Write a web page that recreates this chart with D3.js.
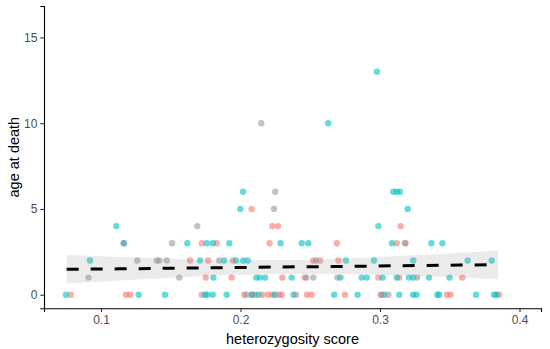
<!DOCTYPE html>
<html>
<head>
<meta charset="utf-8">
<script src="https://cdn.jsdelivr.net/npm/d3@7"></script>
<style>
  html, body { margin: 0; padding: 0; background: #fff; }
  svg { display: block; font-family: "Liberation Sans", Arial, Helvetica, sans-serif; }
</style>
</head>
<body>
<svg id="chart" width="550" height="349"></svg>
<script>
// ---------- data ----------
const salmonX = [0.0783,0.1179,0.1208,0.1722,0.2027,0.2080,0.2104,0.2158,0.2199,0.2229,0.2278,0.2295,0.2477,0.2510,0.2749,0.3005,0.3480,0.3505,0.3853,
                 0.1751,0.1937,0.2300,0.2460,0.2988,0.3136,0.3590,
                 0.1638,0.1769,0.1946,0.2522,0.2570,0.2702,
                 0.1165,0.1724,0.1829,0.2208,0.2690,0.3120,0.3183,
                 0.2228,0.2269,0.3148,
                 0.2080];
const salmonY = [0,0,0,0,0,0,0,0,0,0,0,0,0,0,0,0,0,0,0,
                 1,1,1,1,1,1,1,
                 2,2,2,2,2,2,
                 3,3,3,3,3,3,3,
                 4,4,4,
                 5];
const tealX = [0.0749,0.1270,0.1459,0.1746,0.1762,0.1801,0.1901,0.2082,0.2129,0.2247,0.2380,0.2672,0.2839,0.3032,0.3138,0.3237,0.3262,0.3411,0.3425,0.3688,0.3817,0.3835,
               0.1806,0.2113,0.2138,0.2176,0.2367,0.2717,0.2869,0.2905,0.3019,0.3120,0.3208,0.3239,0.3351,0.3498,
               0.0921,0.1710,0.1882,0.1968,0.2020,0.2052,0.2756,0.2957,0.3239,0.3629,0.3801,
               0.1163,0.1619,0.1758,0.1801,0.1920,0.2288,0.2439,0.2486,0.3086,0.3368,0.3448,
               0.1110,0.2989,
               0.1999,0.3199,
               0.2019,0.3095,0.3120,0.3143,
               0.2629,
               0.2978];
const tealY = [0,0,0,0,0,0,0,0,0,0,0,0,0,0,0,0,0,0,0,0,0,0,
               1,1,1,1,1,1,1,1,1,1,1,1,1,1,
               2,2,2,2,2,2,2,2,2,2,2,
               3,3,3,3,3,3,3,3,3,3,3,
               4,4,
               5,5,
               6,6,6,6,
               10,
               13];
const greyX = [0.2044,0.2398,0.3012,0.3060,
               0.0910,0.1561,0.2472,0.2522,0.2695,0.3267,
               0.1260,0.1399,0.1418,0.1471,0.1848,0.2541,
               0.1510,0.3179,
               0.1690,
               0.2240,
               0.2249,
               0.2149];
const greyY = [0,0,0,0,
               1,1,1,1,1,1,
               2,2,2,2,2,2,
               3,3,
               4,
               5,
               6,
               10];

// fitted trend (dashed) and its confidence band
const fitX  = [0.0754,0.1136,0.1566,0.1996,0.2297,0.2713,0.3143,0.3573,0.3846];
const fitY  = [1.48,1.51,1.55,1.59,1.62,1.65,1.69,1.73,1.75];
const fitLo = [0.65,0.83,1.02,1.16,1.21,1.20,1.12,1.00,0.92];
const fitHi = [2.31,2.20,2.08,2.02,2.02,2.10,2.26,2.45,2.58];

const xTicks = [0.1,0.2,0.3,0.4];
const yTicks = [0,5,10,15];

// ---------- layout ----------
const svg = d3.select("#chart");
const padL = 44, padR = 541, padT = 6, padB = 308.3;

const x = d3.scaleLinear().domain([0.05914, 0.41541]).range([padL, padR]);
const y = d3.scaleLinear().domain([-0.79, 16.83]).range([padB, padT]);

// points
const groups = [
  {xs: salmonX, ys: salmonY, color: "#F8766D"},
  {xs: tealX,   ys: tealY,   color: "#00BFC4"},
  {xs: greyX,   ys: greyY,   color: "#999999"}
];
const gPts = svg.append("g");
groups.forEach(g => {
  gPts.selectAll(null)
    .data(g.xs.map((v, i) => [v, g.ys[i]]))
    .enter().append("circle")
    .attr("cx", d => x(d[0]))
    .attr("cy", d => y(d[1]))
    .attr("r", 3.2)
    .attr("fill", g.color)
    .attr("fill-opacity", 0.6);
});

// confidence band
const band = fitX.map((v, i) => ({x: v, lo: fitLo[i], hi: fitHi[i], m: fitY[i]}));
svg.append("path")
  .datum(band)
  .attr("d", d3.area().x(d => x(d.x)).y0(d => y(d.lo)).y1(d => y(d.hi)).curve(d3.curveMonotoneX))
  .attr("fill", "#999999")
  .attr("fill-opacity", 0.2);

// dashed trend line
svg.append("path")
  .datum(band)
  .attr("d", d3.line().x(d => x(d.x)).y(d => y(d.m)))
  .attr("fill", "none")
  .attr("stroke", "#000")
  .attr("stroke-width", 3)
  .attr("stroke-dasharray", "12,12");

// axes
const xAxis = svg.append("g")
  .attr("transform", `translate(0,${padB})`)
  .call(d3.axisBottom(x).tickValues(xTicks).tickFormat(d3.format(".1f")).tickSizeOuter(0).tickSize(3.7).tickPadding(3));
const yAxis = svg.append("g")
  .attr("transform", `translate(${padL},0)`)
  .call(d3.axisLeft(y).tickValues(yTicks).tickSizeOuter(0).tickSize(3.7).tickPadding(3));

[xAxis, yAxis].forEach(a => {
  a.select(".domain").attr("stroke", "#000").attr("stroke-width", 1.1);
  a.selectAll(".tick line").attr("stroke", "#333").attr("stroke-width", 1.1);
  a.selectAll(".tick text").attr("fill", "#4D4D4D").style("font-size", "12px")
    .style("font-family", "'Liberation Sans', Arial, sans-serif");
});

// axis titles
svg.append("text")
  .attr("x", (padL + padR) / 2)
  .attr("y", 344)
  .attr("text-anchor", "middle")
  .attr("fill", "#000")
  .style("font-size", "14.5px")
  .text("heterozygosity score");

svg.append("text")
  .attr("transform", `translate(19,${(padT + padB) / 2}) rotate(-90)`)
  .attr("text-anchor", "middle")
  .attr("fill", "#000")
  .style("font-size", "14.5px")
  .text("age at death");
</script>
</body>
</html>
